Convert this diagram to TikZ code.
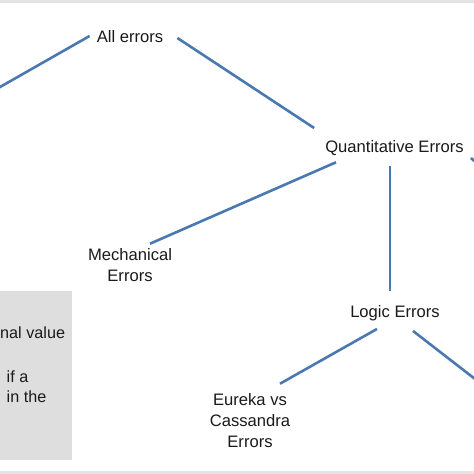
\documentclass[tikz,border=0pt]{standalone}
\usepackage{fontspec}
\setmainfont{Liberation Sans}
\definecolor{linkblue}{HTML}{4A78B0}
\definecolor{boxgray}{HTML}{DEDEDE}
\definecolor{stripgray}{HTML}{E4E4E4}
\definecolor{textdark}{HTML}{1A1A1A}
\begin{document}
\begin{tikzpicture}[x=1pt,y=-1pt,
  lbl/.style={inner sep=0pt,text=textdark,font=\fontsize{16.6}{21}\selectfont,align=center},
  boxtxt/.style={inner sep=0pt,anchor=west,text=textdark,font=\fontsize{16.2}{20}\selectfont},
  link/.style={draw=linkblue,line width=2.6pt}]
\useasboundingbox (0,0) rectangle (474,474);
\clip (0,0) rectangle (474,474);
\fill[white] (0,0) rectangle (474,474);
\fill[stripgray] (0,0) rectangle (474,2.5);
\fill[stripgray] (0,471) rectangle (474,474);
\fill[boxgray] (0,291) rectangle (72,460);
% nodes
\node[lbl] (all) at (130,37) {All errors};
\node[lbl] (quant) at (394.5,148) {Quantitative Errors};
\node[lbl] (mech) at (130,265) {Mechanical\\Errors};
\node[lbl] (logic) at (395,313) {Logic Errors};
\node[lbl] (eureka) at (250,421) {Eureka vs\\Cassandra\\Errors};
\node[boxtxt] (b1) at (0,333) {nal value};
\node[boxtxt] (b2) at (6.5,377) {if a};
\node[boxtxt] (b3) at (6.5,397) {in the};
% off-image ends
\coordinate (offL) at (-10,92.7);
\coordinate (offQ) at (492,176);
\coordinate (offG) at (486,387.5);
% connectors
\draw[link] ([shift={(-7,-1)}]all.west) -- (offL);
\draw[link] ([shift={(14,1)}]all.east) -- ([shift={(-11,-20)}]quant.west);
\draw[link] ([shift={(-58.5,6.5)}]quant.south) -- ([shift={(20,-4.5)}]mech.north);
\draw[link] ([shift={(-4.5,10)}]quant.south) -- ([shift={(-5,-14)}]logic.north);
\draw[link] ([shift={(7,10)}]quant.east) -- (offQ);
\draw[link] ([shift={(-18,8)}]logic.south) -- ([shift={(30,-10)}]eureka.north);
\draw[link] ([shift={(18,10)}]logic.south) -- (offG);
\end{tikzpicture}
\end{document}
